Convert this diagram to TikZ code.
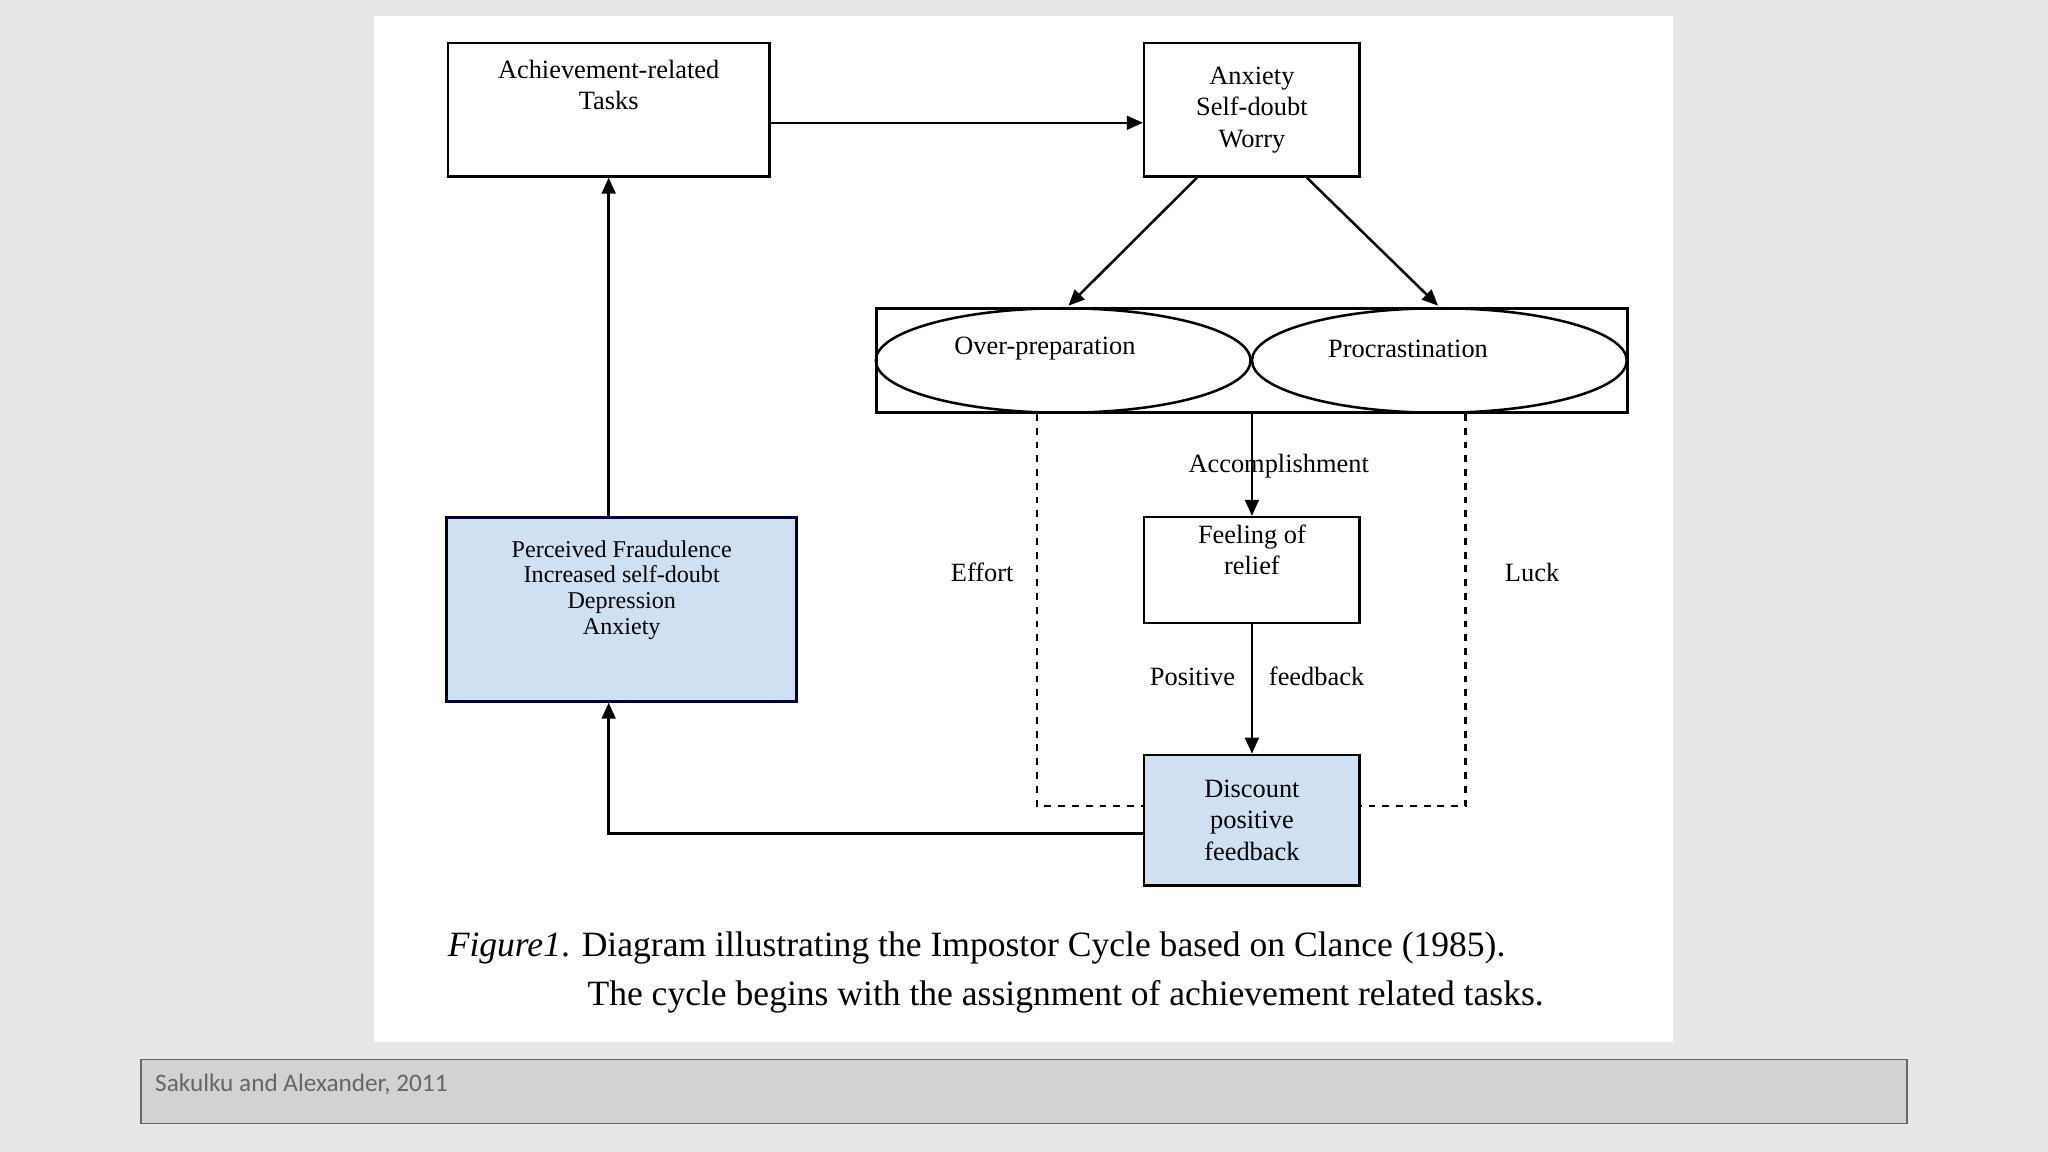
\documentclass[tikz,border=0pt]{standalone}
\usepackage{fontspec}
\setmainfont{Liberation Serif}
\newfontfamily\notefont{Carlito}
\usetikzlibrary{shapes.geometric, arrows.meta, positioning, calc}
\definecolor{slidegray}{HTML}{E7E7E8}
\definecolor{notegray}{HTML}{D2D2D4}
\definecolor{boxblue}{HTML}{CFE0F3}
\begin{document}
\begin{tikzpicture}[x=0.02cm, y=-0.02cm, line width=1.1pt]

  % Styles for the boxes and arrows
  \tikzset{stage/.style = {draw, rectangle, align=center, font=\fontsize{11.5}{13.7}\selectfont},
           coping/.style = {draw, ellipse, minimum width=5.74cm, minimum height=1.6cm},
           flow/.style = {-{Triangle[length=7pt, width=6pt]}},
           tag/.style = {font=\fontsize{11.5}{13.7}\selectfont}}

  \fill[slidegray] (0,0) rectangle (1568,882);
  \fill[white] (286,12) rectangle (1281,798);

  \node (tasks) [stage, minimum width=4.92cm, minimum height=2.04cm] at (466,84) {Achievement-related\\Tasks\\[8pt]};
  \node (anxiety) [stage, minimum width=3.3cm, minimum height=2.04cm] at (958.5,84) {Anxiety\\Self-doubt\\Worry};
  \node (coping) [draw, rectangle, minimum width=11.5cm, minimum height=1.6cm] at (958.5,276) {};
  \node (overprep) [coping] at (814,276) {};
  \node (procrast) [coping] at (1102,276) {};
  \node[tag] at (800,267) {Over-preparation};
  \node[tag] at (1078,267) {Procrastination};
  \node (relief) [stage, minimum width=3.3cm, minimum height=1.62cm] at (958.5,436.5) {Feeling of\\relief\\[4pt]};
  \node (discount) [stage, fill=boxblue, minimum width=3.3cm, minimum height=2.0cm] at (958.5,628) {Discount\\positive\\feedback};
  \node (fraud) [stage, fill=boxblue, draw=black!80!blue, minimum width=5.36cm, minimum height=2.82cm,
                 font=\fontsize{10.5}{11.2}\selectfont] at (476,466.5) {Perceived Fraudulence\\Increased self-doubt\\Depression\\Anxiety\\[8pt]};

  \node[tag] at (979,357) {Accomplishment};
  \node[tag] at (913,518) {Positive};
  \node[tag] at (1008,518) {feedback};
  \node[tag] at (752,438) {Effort};
  \node[tag] at (1173,438) {Luck};

  \draw[flow] ($(tasks.east)+(0,10)$) -- ($(anxiety.west)+(0,10)$);
  \draw[flow] ($(anxiety.south)+(-42,0)$) -- ($(overprep.north)+(4,-1)$);
  \draw[flow] ($(anxiety.south)+(42,0)$) -- ($(procrast.north)+(-1,-1)$);
  \draw[flow] (coping.south) -- (relief.north);
  \draw[flow] (relief.south) -- (discount.north);
  \draw[flow] (fraud.north -| tasks.south) -- (tasks.south);
  \draw[flow] ($(discount.west)+(0,10)$) -| (fraud.south -| tasks.south);
  \draw[dashed] (coping.south -| 794,0) |- ($(discount.west)+(0,-11)$);
  \draw[dashed] (coping.south -| 1122,0) |- ($(discount.east)+(0,-11)$);

  \node[anchor=base west, font=\fontsize{15.5}{20}\selectfont] at (336,732) {\textit{Figure1}. Diagram illustrating the Impostor Cycle based on Clance (1985).};
  \node[anchor=base west, font=\fontsize{15.5}{20}\selectfont] at (443,770) {The cycle begins with the assignment of achievement related tasks.};

  \draw[draw=black!60, fill=notegray, line width=0.6pt] (108,811) rectangle (1460,860);
  \node[anchor=west, font=\notefont\fontsize{11}{13}\selectfont, text=black!60] at (112,830) {Sakulku and Alexander, 2011};

\end{tikzpicture}
\end{document}
